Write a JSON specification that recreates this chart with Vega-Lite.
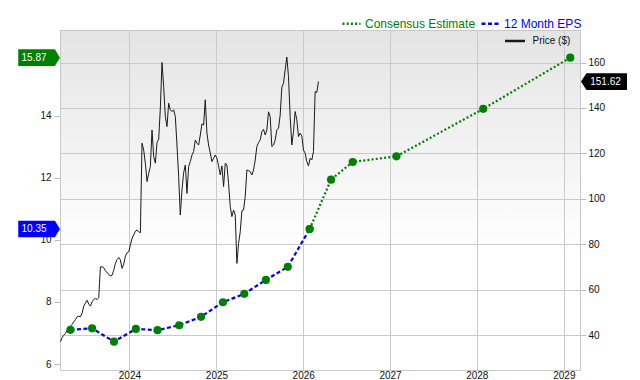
{
  "$schema": "https://vega.github.io/schema/vega-lite/v6.json",
  "width": 520,
  "height": 340,
  "autosize": {"type": "none"},
  "padding": {"left": 60, "top": 30, "right": 60, "bottom": 10},
  "background": "white",
  "config": {
    "font": "Liberation Sans",
    "view": {
      "stroke": "#c8c8c8",
      "strokeWidth": 1,
      "fill": {"gradient": "linear", "x1": 0, "y1": 0, "x2": 0, "y2": 1,
        "stops": [{"offset": 0, "color": "#e4e4e4"}, {"offset": 0.65, "color": "#ffffff"}, {"offset": 1, "color": "#ffffff"}]}
    },
    "axis": {"labelFont": "Liberation Sans", "labelFontSize": 10, "labelColor": "#111111", "domain": false, "tickColor": "#bdbdbd", "gridColor": "#cacaca", "title": null},
    "legend": {"labelFont": "Liberation Sans", "padding": 0, "title": null}
  },
  "datasets": {
    "price": [
      {"date": "2023-03-17", "price": 37.1}, {"date": "2023-03-24", "price": 39.0}, {"date": "2023-03-31", "price": 40.0}, {"date": "2023-04-07", "price": 40.7},
      {"date": "2023-04-14", "price": 42.2}, {"date": "2023-04-21", "price": 43.2}, {"date": "2023-04-28", "price": 44.0}, {"date": "2023-05-05", "price": 44.8},
      {"date": "2023-05-12", "price": 45.9}, {"date": "2023-05-19", "price": 46.9}, {"date": "2023-05-26", "price": 48.1}, {"date": "2023-06-02", "price": 48.4},
      {"date": "2023-06-09", "price": 48.1}, {"date": "2023-06-16", "price": 49.8}, {"date": "2023-06-23", "price": 52.8}, {"date": "2023-06-30", "price": 54.2},
      {"date": "2023-07-07", "price": 55.4}, {"date": "2023-07-14", "price": 53.7}, {"date": "2023-07-21", "price": 52.8}, {"date": "2023-07-28", "price": 54.7},
      {"date": "2023-08-04", "price": 55.7}, {"date": "2023-08-11", "price": 56.2}, {"date": "2023-08-18", "price": 55.7}, {"date": "2023-08-25", "price": 56.6},
      {"date": "2023-09-01", "price": 70.1}, {"date": "2023-09-08", "price": 70.1}, {"date": "2023-09-15", "price": 69.7}, {"date": "2023-09-22", "price": 68.4},
      {"date": "2023-09-29", "price": 67.5}, {"date": "2023-10-06", "price": 66.9}, {"date": "2023-10-13", "price": 66.0}, {"date": "2023-10-20", "price": 66.4},
      {"date": "2023-10-27", "price": 68.6}, {"date": "2023-11-03", "price": 71.6}, {"date": "2023-11-10", "price": 73.3}, {"date": "2023-11-17", "price": 74.2},
      {"date": "2023-11-24", "price": 73.1}, {"date": "2023-12-01", "price": 69.4}, {"date": "2023-12-08", "price": 71.3}, {"date": "2023-12-15", "price": 74.8},
      {"date": "2023-12-22", "price": 76.3}, {"date": "2023-12-29", "price": 76.7}, {"date": "2024-01-05", "price": 79.7}, {"date": "2024-01-12", "price": 82.6},
      {"date": "2024-01-19", "price": 84.1}, {"date": "2024-01-26", "price": 85.8}, {"date": "2024-02-02", "price": 86.3}, {"date": "2024-02-09", "price": 85.5},
      {"date": "2024-02-16", "price": 85.1}, {"date": "2024-02-23", "price": 124.5}, {"date": "2024-03-01", "price": 121.5}, {"date": "2024-03-08", "price": 115.7},
      {"date": "2024-03-15", "price": 107.6}, {"date": "2024-03-22", "price": 111.2}, {"date": "2024-03-29", "price": 114.2}, {"date": "2024-04-05", "price": 130.3},
      {"date": "2024-04-12", "price": 118.6}, {"date": "2024-04-19", "price": 115.7}, {"date": "2024-04-26", "price": 124.8}, {"date": "2024-05-03", "price": 126.2},
      {"date": "2024-05-10", "price": 139.9}, {"date": "2024-05-17", "price": 160.0}, {"date": "2024-05-24", "price": 149.4}, {"date": "2024-05-31", "price": 136.2},
      {"date": "2024-06-07", "price": 131.8}, {"date": "2024-06-14", "price": 142.1}, {"date": "2024-06-21", "price": 139.2}, {"date": "2024-06-28", "price": 138.4},
      {"date": "2024-07-05", "price": 139.2}, {"date": "2024-07-12", "price": 136.2}, {"date": "2024-07-19", "price": 123.7}, {"date": "2024-07-26", "price": 109.8},
      {"date": "2024-08-02", "price": 92.9}, {"date": "2024-08-09", "price": 103.9}, {"date": "2024-08-16", "price": 111.5}, {"date": "2024-08-23", "price": 114.9},
      {"date": "2024-08-30", "price": 102.4}, {"date": "2024-09-06", "price": 114.2}, {"date": "2024-09-13", "price": 116.4}, {"date": "2024-09-20", "price": 119.3},
      {"date": "2024-09-27", "price": 120.8}, {"date": "2024-10-04", "price": 125.9}, {"date": "2024-10-11", "price": 124.5}, {"date": "2024-10-18", "price": 123.7},
      {"date": "2024-10-25", "price": 128.1}, {"date": "2024-11-01", "price": 133.0}, {"date": "2024-11-08", "price": 132.5}, {"date": "2024-11-15", "price": 143.6},
      {"date": "2024-11-22", "price": 128.9}, {"date": "2024-11-29", "price": 123.7}, {"date": "2024-12-06", "price": 120.1}, {"date": "2024-12-13", "price": 116.4},
      {"date": "2024-12-20", "price": 117.9}, {"date": "2024-12-27", "price": 119.3}, {"date": "2025-01-03", "price": 117.9}, {"date": "2025-01-10", "price": 114.5},
      {"date": "2025-01-17", "price": 110.5}, {"date": "2025-01-24", "price": 114.5}, {"date": "2025-01-31", "price": 105.4}, {"date": "2025-02-07", "price": 115.7},
      {"date": "2025-02-14", "price": 114.9}, {"date": "2025-02-21", "price": 106.8}, {"date": "2025-02-28", "price": 96.6}, {"date": "2025-03-07", "price": 92.2},
      {"date": "2025-03-14", "price": 95.1}, {"date": "2025-03-21", "price": 92.9}, {"date": "2025-03-28", "price": 71.6}, {"date": "2025-04-04", "price": 80.4},
      {"date": "2025-04-11", "price": 85.5}, {"date": "2025-04-18", "price": 94.8}, {"date": "2025-04-25", "price": 95.1}, {"date": "2025-05-02", "price": 101.0},
      {"date": "2025-05-09", "price": 112.7}, {"date": "2025-05-16", "price": 112.4}, {"date": "2025-05-23", "price": 112.0}, {"date": "2025-05-30", "price": 110.5},
      {"date": "2025-06-06", "price": 112.7}, {"date": "2025-06-13", "price": 117.1}, {"date": "2025-06-20", "price": 123.0}, {"date": "2025-06-27", "price": 124.8},
      {"date": "2025-07-04", "price": 125.9}, {"date": "2025-07-11", "price": 129.6}, {"date": "2025-07-18", "price": 130.6}, {"date": "2025-07-25", "price": 128.1},
      {"date": "2025-08-01", "price": 130.3}, {"date": "2025-08-08", "price": 138.3}, {"date": "2025-08-15", "price": 136.2}, {"date": "2025-08-22", "price": 123.0},
      {"date": "2025-08-29", "price": 123.7}, {"date": "2025-09-05", "price": 125.9}, {"date": "2025-09-12", "price": 130.3}, {"date": "2025-09-19", "price": 131.1},
      {"date": "2025-09-26", "price": 136.9}, {"date": "2025-10-03", "price": 149.1}, {"date": "2025-10-10", "price": 150.9}, {"date": "2025-10-17", "price": 156.8},
      {"date": "2025-10-24", "price": 162.4}, {"date": "2025-10-31", "price": 153.8}, {"date": "2025-11-07", "price": 136.2}, {"date": "2025-11-14", "price": 123.7},
      {"date": "2025-11-21", "price": 129.6}, {"date": "2025-11-28", "price": 138.4}, {"date": "2025-12-05", "price": 134.8}, {"date": "2025-12-12", "price": 127.4},
      {"date": "2025-12-19", "price": 128.9}, {"date": "2025-12-26", "price": 127.7}, {"date": "2026-01-02", "price": 121.5}, {"date": "2026-01-09", "price": 120.1},
      {"date": "2026-01-16", "price": 116.4}, {"date": "2026-01-23", "price": 114.5}, {"date": "2026-01-30", "price": 117.9}, {"date": "2026-02-06", "price": 117.1},
      {"date": "2026-02-13", "price": 120.8}, {"date": "2026-02-20", "price": 147.2}, {"date": "2026-02-27", "price": 146.8}, {"date": "2026-03-06", "price": 151.62}
    ],
    "priceLabel": [{"price": 151.62}],
    "eps": [
      {"date": "2023-04-28", "eps": 7.10, "series": "12 Month EPS"},
      {"date": "2023-07-28", "eps": 7.15, "series": "12 Month EPS"},
      {"date": "2023-10-28", "eps": 6.72, "series": "12 Month EPS"},
      {"date": "2024-01-28", "eps": 7.13, "series": "12 Month EPS"},
      {"date": "2024-04-28", "eps": 7.09, "series": "12 Month EPS"},
      {"date": "2024-07-28", "eps": 7.25, "series": "12 Month EPS"},
      {"date": "2024-10-28", "eps": 7.52, "series": "12 Month EPS"},
      {"date": "2025-01-28", "eps": 7.99, "series": "12 Month EPS"},
      {"date": "2025-04-28", "eps": 8.26, "series": "12 Month EPS"},
      {"date": "2025-07-28", "eps": 8.71, "series": "12 Month EPS"},
      {"date": "2025-10-28", "eps": 9.13, "series": "12 Month EPS"},
      {"date": "2026-01-28", "eps": 10.35, "series": "12 Month EPS"},
      {"date": "2026-01-28", "eps": 10.35, "series": "Consensus Estimate"},
      {"date": "2026-04-28", "eps": 11.94, "series": "Consensus Estimate"},
      {"date": "2026-07-28", "eps": 12.51, "series": "Consensus Estimate"},
      {"date": "2027-01-28", "eps": 12.69, "series": "Consensus Estimate"},
      {"date": "2028-01-28", "eps": 14.22, "series": "Consensus Estimate"},
      {"date": "2029-01-28", "eps": 15.87, "series": "Consensus Estimate"}
    ],
    "epsLabels": [
      {"series": "Consensus Estimate", "eps": 15.87},
      {"series": "12 Month EPS", "eps": 10.35}
    ]
  },
  "layer": [
    {
      "layer": [
        {
          "data": {"name": "price"},
          "mark": {"type": "line", "strokeWidth": 1},
          "encoding": {
            "x": {"field": "date", "type": "temporal",
              "scale": {"domain": [{"year": 2023, "month": 3, "date": 15}, {"year": 2029, "month": 3, "date": 10}]},
              "axis": {"values": [{"year": 2024, "month": 1, "date": 1}, {"year": 2025, "month": 1, "date": 1}, {"year": 2026, "month": 1, "date": 1}, {"year": 2027, "month": 1, "date": 1}, {"year": 2028, "month": 1, "date": 1}, {"year": 2029, "month": 1, "date": 1}],
                "format": "%Y", "grid": true, "ticks": false, "tickSize": 0, "labelPadding": 0, "labelFontSize": 10}},
            "y": {"field": "price", "type": "quantitative",
              "scale": {"domain": [24.7, 174.3], "nice": false, "zero": false},
              "axis": {"orient": "right", "values": [40, 60, 80, 100, 120, 140, 160], "grid": true, "tickSize": 6, "labelPadding": 2}},
            "color": {"datum": "Price ($)", "scale": {"range": ["#1a1a1a"]},
              "legend": {"orient": "none", "legendX": 443.5, "legendY": -0.5, "symbolType": "stroke", "symbolSize": 400, "symbolStrokeWidth": 2.5, "symbolStrokeColor": "#777777", "labelFontSize": 10, "labelColor": "#111111", "labelOffset": 6,
                "encode": {"symbols": {"enter": {"stroke": {"value": "#777777"}}, "update": {"stroke": {"value": "#777777"}}}}}}
          }
        },
        {
          "data": {"name": "priceLabel"},
          "mark": {"type": "point", "shape": "M-1,0L-0.765,-0.363L1,-0.363L1,0.363L-0.765,0.363Z", "filled": true, "size": 2116, "opacity": 1, "color": "#000000", "strokeWidth": 0},
          "encoding": {
            "x": {"datum": {"year": 2029, "month": 6, "date": 19}, "type": "temporal"},
            "y": {"field": "price", "type": "quantitative"}
          }
        },
        {
          "data": {"name": "priceLabel"},
          "mark": {"type": "text", "color": "#ffffff", "fontSize": 10, "font": "Liberation Sans", "dx": 1.5, "baseline": "middle", "align": "center"},
          "encoding": {
            "x": {"datum": {"year": 2029, "month": 6, "date": 19}, "type": "temporal"},
            "y": {"field": "price", "type": "quantitative"},
            "text": {"field": "price", "type": "quantitative", "format": ".2f"}
          }
        }
      ]
    },
    {
      "layer": [
        {
          "data": {"name": "eps"},
          "mark": {"type": "line", "strokeWidth": 2.2},
          "encoding": {
            "x": {"field": "date", "type": "temporal"},
            "y": {"field": "eps", "type": "quantitative",
              "scale": {"domain": [5.807, 16.761], "nice": false, "zero": false},
              "axis": {"orient": "left", "values": [6, 8, 10, 12, 14], "grid": false, "tickSize": 6, "labelPadding": 3}},
            "color": {"field": "series", "type": "nominal",
              "scale": {"domain": ["Consensus Estimate", "12 Month EPS"], "range": ["#008000", "#0000ff"]},
              "legend": {"orient": "none", "legendX": 281, "legendY": -17, "direction": "horizontal", "symbolType": "stroke", "symbolSize": 324, "symbolStrokeWidth": 2.5, "labelFontSize": 12, "labelOffset": 3, "columnPadding": 0,
                "encode": {
                  "labels": {"update": {"fill": {"signal": "datum.label === '12 Month EPS' ? '#0000ff' : '#008000'"}}},
                  "symbols": {"update": {"strokeDash": {"signal": "datum.label === '12 Month EPS' ? [4, 2.5] : [2, 2.2]"}}}
                }}},
            "strokeDash": {"field": "series", "type": "nominal",
              "scale": {"domain": ["Consensus Estimate", "12 Month EPS"], "range": [[2, 2.2], [4, 2.5]]},
              "legend": null}
          }
        },
        {
          "data": {"name": "eps"},
          "mark": {"type": "circle", "size": 66, "color": "#008000", "opacity": 1},
          "encoding": {
            "x": {"field": "date", "type": "temporal"},
            "y": {"field": "eps", "type": "quantitative"}
          }
        },
        {
          "data": {"name": "epsLabels"},
          "mark": {"type": "point", "shape": "M-1,-0.4L0.76,-0.4L1,0L0.76,0.4L-1,0.4Z", "filled": true, "size": 1739, "opacity": 1, "strokeWidth": 0},
          "encoding": {
            "x": {"datum": {"year": 2022, "month": 12, "date": 17}, "type": "temporal"},
            "y": {"field": "eps", "type": "quantitative"},
            "color": {"condition": {"test": "datum.series === '12 Month EPS'", "value": "#0000ff"}, "value": "#008000"}
          }
        },
        {
          "data": {"name": "epsLabels"},
          "mark": {"type": "text", "color": "#ffffff", "fontSize": 10, "font": "Liberation Sans", "dx": -5, "baseline": "middle", "align": "center"},
          "encoding": {
            "x": {"datum": {"year": 2022, "month": 12, "date": 17}, "type": "temporal"},
            "y": {"field": "eps", "type": "quantitative"},
            "text": {"field": "eps", "type": "quantitative", "format": ".2f"}
          }
        }
      ]
    }
  ],
  "resolve": {"scale": {"y": "independent", "color": "independent", "strokeDash": "independent"}, "axis": {"y": "independent"}}
}
